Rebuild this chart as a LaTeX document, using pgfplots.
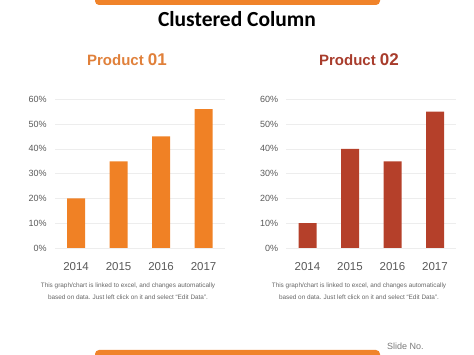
\documentclass[border=0pt]{standalone}
\usepackage{fontspec}
\setmainfont{Liberation Sans}
\newfontfamily\titlefont{Carlito}
\usepackage{pgfplots}
\pgfplotsset{compat=1.18}
\definecolor{barorange}{HTML}{F08125}
\definecolor{barred}{HTML}{B5402A}
\definecolor{txtorange}{HTML}{E0803A}
\definecolor{txtred}{HTML}{A83C2C}
\definecolor{tickgray}{HTML}{595959}
\definecolor{capgray}{HTML}{666666}
\definecolor{gridgray}{HTML}{EDEDED}
\definecolor{stripe}{HTML}{F0832A}
\pgfplotsset{
  prodaxis/.style={
    scale only axis, width=170pt, height=148.7pt,
    xmin=-0.5, xmax=3.5, ymin=0, ymax=60,
    axis line style={draw=none},
    ymajorgrids, major grid style={draw=gridgray, line width=0.7pt},
    tick style={draw=none},
    xtick={0,1,2,3}, xticklabels={2014,2015,2016,2017},
    ytick={0,10,20,30,40,50,60},
    yticklabels={0\%,10\%,20\%,30\%,40\%,50\%,60\%},
    xticklabel style={font=\fontsize{11.5}{12}\selectfont, text=tickgray, anchor=base, yshift=-18.7pt},
    yticklabel style={font=\fontsize{9}{10}\selectfont, text=tickgray, anchor=east, inner sep=0pt, xshift=-8pt},
    ybar, bar width=18pt,
  }
}
\begin{document}
\begin{tikzpicture}[x=1pt,y=1pt]
\useasboundingbox (0,0) rectangle (474,355);
\fill[stripe, rounded corners=4pt] (95,350) rectangle (380,364);
\fill[stripe, rounded corners=4pt] (95,-9) rectangle (380,5);
\node[anchor=base, inner sep=0pt, font=\titlefont\bfseries\fontsize{21.5}{24}\selectfont] at (237,328.3) {Clustered Column};
\node[anchor=base, inner sep=0pt, text=txtorange, font=\bfseries] at (127,289.5) {\fontsize{15}{16}\selectfont Product \fontsize{17}{18}\selectfont 01};
\node[anchor=base, inner sep=0pt, text=txtred, font=\bfseries] at (359,289.5) {\fontsize{15}{16}\selectfont Product \fontsize{17}{18}\selectfont 02};

\begin{axis}[prodaxis, at={(54.85pt,107pt)}, anchor=south west]
\addplot[fill=barorange, draw=none] coordinates {(0,20) (1,35) (2,45) (3,56)};
\end{axis}

\begin{axis}[prodaxis, at={(286.25pt,107pt)}, anchor=south west]
\addplot[fill=barred, draw=none] coordinates {(0,10) (1,40) (2,35) (3,55)};
\end{axis}

\node[anchor=base, inner sep=0pt, text=capgray, font=\fontsize{6.4}{7}\selectfont] at (128,67.3) {This graph/chart is linked to excel, and changes automatically};
\node[anchor=base, inner sep=0pt, text=capgray, font=\fontsize{6.4}{7}\selectfont] at (128,55) {based on data. Just left click on it and select ``Edit Data''.};
\node[anchor=base, inner sep=0pt, text=capgray, font=\fontsize{6.4}{7}\selectfont] at (359,67.3) {This graph/chart is linked to excel, and changes automatically};
\node[anchor=base, inner sep=0pt, text=capgray, font=\fontsize{6.4}{7}\selectfont] at (359,55) {based on data. Just left click on it and select ``Edit Data''.};
\node[anchor=base west, inner sep=0pt, text=tickgray!80, font=\fontsize{9}{10}\selectfont] at (387,5) {Slide No.};
\end{tikzpicture}
\end{document}
